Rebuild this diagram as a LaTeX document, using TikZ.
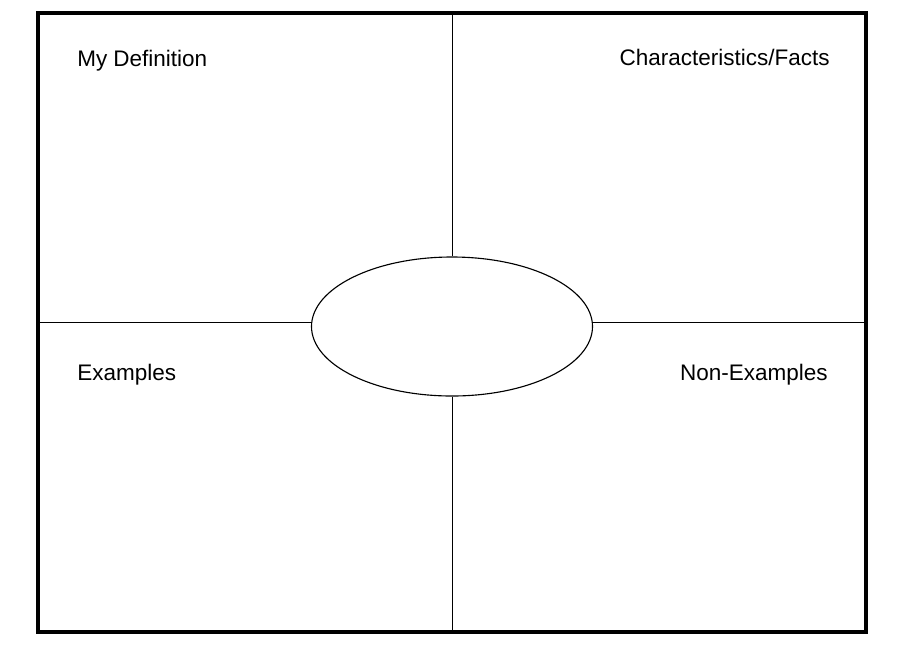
\documentclass[tikz,border=0pt]{standalone}
\usepackage{fontspec}
\setmainfont{Liberation Sans}
\usetikzlibrary{shapes.geometric}

\begin{document}
\begin{tikzpicture}[x=0.25mm,y=-0.25mm,
    label/.style={inner sep=0pt,font=\fontsize{16}{19}\selectfont}]
    \useasboundingbox (0,0) rectangle (900,653);
    % Nodes
    \node[draw,rectangle,line width=2.2pt,minimum width=207mm,minimum height=154.75mm,inner sep=0pt] (F) at (452,322.5) {};
    \node[draw,ellipse,line width=0.8pt,minimum width=70.25mm,minimum height=34.75mm,inner sep=0pt] (E) at (452,326.5) {};
    \node[label,anchor=base west] (A) at (77,66) {My Definition};
    \node[label,anchor=base east] (B) at (830,65) {Characteristics/Facts};
    \node[label,anchor=base west] (C) at (77,380) {Examples};
    \node[label,anchor=base east] (D) at (828,380) {Non-Examples};

    % Lines
    \draw[black,line width=0.7pt] (F.north) -- (E.north);
    \draw[black,line width=0.7pt] (E.south) -- (F.south);
    \draw[black,line width=0.7pt] (F.west) -- (F.west -| E.west);
    \draw[black,line width=0.7pt] (F.east -| E.east) -- (F.east);
\end{tikzpicture}
\end{document}
